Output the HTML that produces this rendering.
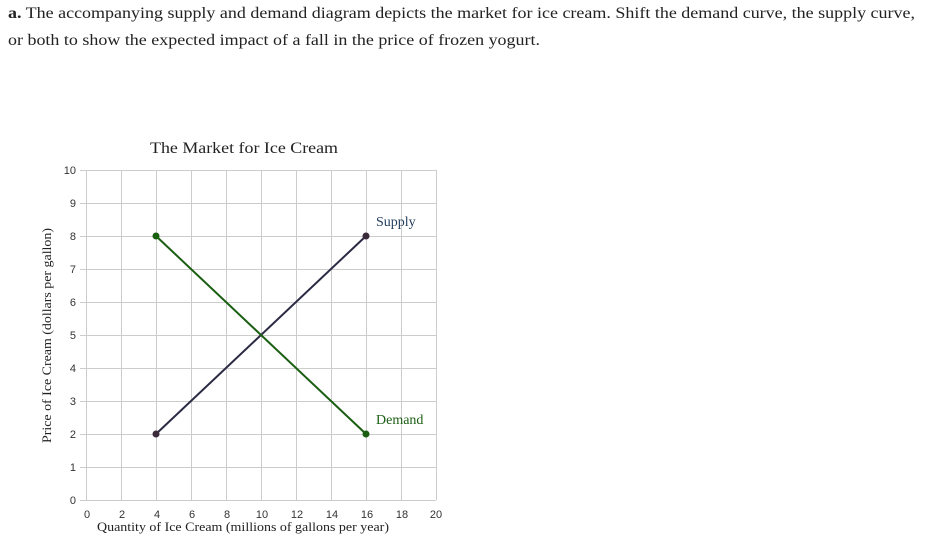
<!DOCTYPE html>
<html><head><meta charset="utf-8"><style>html,body{margin:0;padding:0;background:#fff;}svg{display:block}</style></head>
<body>
<svg width="943" height="548" viewBox="0 0 943 548" xmlns="http://www.w3.org/2000/svg">
<g font-family="Liberation Serif, serif" fill="#222" font-size="16">
<text x="8" y="18" textLength="907" lengthAdjust="spacingAndGlyphs"><tspan font-weight="bold">a.</tspan> The accompanying supply and demand diagram depicts the market for ice cream. Shift the demand curve, the supply curve,</text>
<text x="8" y="45" textLength="532" lengthAdjust="spacingAndGlyphs">or both to show the expected impact of a fall in the price of frozen yogurt.</text>
<text x="150" y="153" font-size="16" textLength="188" lengthAdjust="spacingAndGlyphs">The Market for Ice Cream</text>
<text x="97" y="531" font-size="13" textLength="292" lengthAdjust="spacingAndGlyphs">Quantity of Ice Cream (millions of gallons per year)</text>
<text transform="translate(51,443) rotate(-90)" font-size="13" textLength="215" lengthAdjust="spacingAndGlyphs">Price of Ice Cream (dollars per gallon)</text>
</g>
<g stroke="#ccc" stroke-width="1">
<line x1="86.5" y1="170" x2="86.5" y2="500"/><line x1="121.5" y1="170" x2="121.5" y2="500"/><line x1="156.5" y1="170" x2="156.5" y2="500"/><line x1="191.5" y1="170" x2="191.5" y2="500"/><line x1="226.5" y1="170" x2="226.5" y2="500"/><line x1="261.5" y1="170" x2="261.5" y2="500"/><line x1="296.5" y1="170" x2="296.5" y2="500"/><line x1="331.5" y1="170" x2="331.5" y2="500"/><line x1="366.5" y1="170" x2="366.5" y2="500"/><line x1="401.5" y1="170" x2="401.5" y2="500"/><line x1="436.5" y1="170" x2="436.5" y2="500"/>
<line x1="80" y1="170.5" x2="436" y2="170.5"/><line x1="80" y1="203.5" x2="436" y2="203.5"/><line x1="80" y1="236.5" x2="436" y2="236.5"/><line x1="80" y1="269.5" x2="436" y2="269.5"/><line x1="80" y1="302.5" x2="436" y2="302.5"/><line x1="80" y1="335.5" x2="436" y2="335.5"/><line x1="80" y1="368.5" x2="436" y2="368.5"/><line x1="80" y1="401.5" x2="436" y2="401.5"/><line x1="80" y1="434.5" x2="436" y2="434.5"/><line x1="80" y1="467.5" x2="436" y2="467.5"/><line x1="80" y1="500.5" x2="436" y2="500.5"/>
</g>
<g font-family="Liberation Sans, sans-serif" font-size="11" fill="#333">
<g text-anchor="end"><text x="76" y="174">10</text><text x="76" y="207">9</text><text x="76" y="240">8</text><text x="76" y="273">7</text><text x="76" y="306">6</text><text x="76" y="339">5</text><text x="76" y="372">4</text><text x="76" y="405">3</text><text x="76" y="438">2</text><text x="76" y="471">1</text><text x="76" y="504">0</text></g>
<g text-anchor="middle"><text x="87" y="518">0</text><text x="122" y="518">2</text><text x="157" y="518">4</text><text x="192" y="518">6</text><text x="227" y="518">8</text><text x="262" y="518">10</text><text x="297" y="518">12</text><text x="332" y="518">14</text><text x="367" y="518">16</text><text x="402" y="518">18</text><text x="436" y="518">20</text></g>
</g>
<line x1="156" y1="434" x2="366" y2="236" stroke="#2a2a44" stroke-width="2"/>
<line x1="156" y1="236" x2="366" y2="434" stroke="#1a5e12" stroke-width="2"/>
<circle cx="156" cy="434" r="3.5" fill="#3a2a3a"/><circle cx="366" cy="236" r="3.5" fill="#3a2a3a"/>
<circle cx="156" cy="236" r="3.5" fill="#1a5e12"/><circle cx="366" cy="434" r="3.5" fill="#1a5e12"/>
<text x="376" y="226" font-family="Liberation Serif, serif" font-size="14" fill="#1e3a5a">Supply</text>
<text x="376" y="424" font-family="Liberation Serif, serif" font-size="14" fill="#1a5e12">Demand</text>
</svg>
</body></html>
